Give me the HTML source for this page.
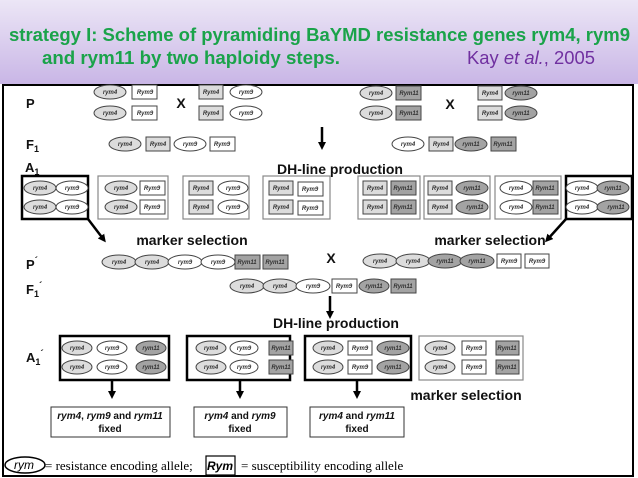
<!DOCTYPE html>
<html><head><meta charset="utf-8"><style>
body{margin:0;width:638px;height:478px;overflow:hidden;background:#fff}
svg{display:block}
.a text{font-family:"Liberation Sans",sans-serif;font-size:6px;font-style:italic;font-weight:bold;text-anchor:middle;fill:#333}
.L{fill:#dcdcdc;stroke:#444;stroke-width:1}
.W{fill:#fff;stroke:#444;stroke-width:1}
.D{fill:#a3a3a3;stroke:#444;stroke-width:1}
.lab{font-family:"Liberation Sans",sans-serif;font-weight:bold;font-size:13px;fill:#111}
.big{font-family:"Liberation Sans",sans-serif;font-weight:bold;font-size:14px;fill:#111;text-anchor:middle}
.gb{fill:none;stroke:#888;stroke-width:1.2}
.kb{fill:none;stroke:#000;stroke-width:2.5}
.fx{font-family:"Liberation Sans",sans-serif;font-weight:bold;font-size:10px;fill:#111;text-anchor:middle}
</style></head><body>
<svg width="638" height="478" viewBox="0 0 638 478">
<defs>
<linearGradient id="hg" x1="0" y1="0" x2="0" y2="1"><stop offset="0" stop-color="#ece6f6"/><stop offset="1" stop-color="#c9b6e6"/></linearGradient>
<marker id="ah" markerWidth="8" markerHeight="8" refX="5" refY="4" orient="auto" markerUnits="userSpaceOnUse"><path d="M0,0 L8,4 L0,8 z" fill="#000"/></marker>
</defs>
<rect x="0" y="0" width="638" height="84" fill="url(#hg)"/>
<text x="9" y="41" font-family="Liberation Sans,sans-serif" font-weight="bold" font-size="18" fill="#1aa34a" textLength="621" lengthAdjust="spacingAndGlyphs">strategy I: Scheme of pyramiding BaYMD resistance genes rym4, rym9</text>
<text x="42" y="64" font-family="Liberation Sans,sans-serif" font-weight="bold" font-size="18" fill="#1aa34a" textLength="298" lengthAdjust="spacingAndGlyphs">and rym11 by two haploidy steps.</text>
<text x="467" y="64" font-family="Liberation Sans,sans-serif" font-size="18" fill="#7030a0" textLength="128" lengthAdjust="spacingAndGlyphs">Kay <tspan font-style="italic">et al.</tspan>, 2005</text>
<rect x="3" y="85" width="630" height="391" fill="#fff" stroke="#000" stroke-width="2"/>

<text class="lab" x="26" y="108">P</text>
<text class="lab" x="26" y="149">F<tspan font-size="9" dy="3">1</tspan></text>
<text class="lab" x="25" y="172">A<tspan font-size="9" dy="3">1</tspan></text>
<text class="lab" x="26" y="269">P<tspan font-size="10" dy="-5">´</tspan></text>
<text class="lab" x="26" y="294">F<tspan font-size="9" dy="3">1</tspan><tspan font-size="10" dy="-8">´</tspan></text>
<text class="lab" x="26" y="362">A<tspan font-size="9" dy="3">1</tspan><tspan font-size="10" dy="-8">´</tspan></text>

<text x="181" y="108" class="big" font-size="16">X</text>
<text x="450" y="109" class="big" font-size="16">X</text>
<text x="331" y="263" class="big" font-size="16">X</text>

<g class="a">
<ellipse class="L" cx="110" cy="92" rx="16" ry="7"/><text x="110" y="94">rym4</text>
<ellipse class="L" cx="110" cy="113" rx="16" ry="7"/><text x="110" y="115">rym4</text>
<rect class="W" x="132" y="85" width="25" height="14"/><text x="145" y="94">Rym9</text>
<rect class="W" x="132" y="106" width="25" height="14"/><text x="145" y="115">Rym9</text>
<rect class="L" x="199" y="85" width="24" height="14"/><text x="211" y="94">Rym4</text>
<rect class="L" x="199" y="106" width="24" height="14"/><text x="211" y="115">Rym4</text>
<ellipse class="W" cx="246" cy="92" rx="16" ry="7"/><text x="246" y="94">rym9</text>
<ellipse class="W" cx="246" cy="113" rx="16" ry="7"/><text x="246" y="115">rym9</text>
<ellipse class="L" cx="376" cy="93" rx="16" ry="7"/><text x="376" y="95">rym4</text>
<ellipse class="L" cx="376" cy="113" rx="16" ry="7"/><text x="376" y="115">rym4</text>
<rect class="D" x="396" y="86" width="25" height="14"/><text x="409" y="95">Rym11</text>
<rect class="D" x="396" y="106" width="25" height="14"/><text x="409" y="115">Rym11</text>
<rect class="L" x="478" y="86" width="24" height="14"/><text x="490" y="95">Rym4</text>
<rect class="L" x="478" y="106" width="24" height="14"/><text x="490" y="115">Rym4</text>
<ellipse class="D" cx="521" cy="93" rx="16" ry="7"/><text x="521" y="95">rym11</text>
<ellipse class="D" cx="521" cy="113" rx="16" ry="7"/><text x="521" y="115">rym11</text>
<ellipse class="L" cx="125" cy="144" rx="16" ry="7"/><text x="125" y="146">rym4</text>
<rect class="L" x="146" y="137" width="24" height="14"/><text x="158" y="146">Rym4</text>
<ellipse class="W" cx="190" cy="144" rx="16" ry="7"/><text x="190" y="146">rym9</text>
<rect class="W" x="210" y="137" width="25" height="14"/><text x="222" y="146">Rym9</text>
<ellipse class="W" cx="408" cy="144" rx="16" ry="7"/><text x="408" y="146">rym4</text>
<rect class="L" x="429" y="137" width="24" height="14"/><text x="441" y="146">Rym4</text>
<ellipse class="D" cx="471" cy="144" rx="16" ry="7"/><text x="471" y="146">rym11</text>
<rect class="D" x="491" y="137" width="25" height="14"/><text x="503" y="146">Rym11</text>

<rect class="kb" x="22" y="176" width="66" height="43"/>
<ellipse class="L" cx="40" cy="188" rx="16" ry="7"/><text x="40" y="190">rym4</text>
<ellipse class="L" cx="40" cy="207" rx="16" ry="7"/><text x="40" y="209">rym4</text>
<ellipse class="W" cx="72" cy="188" rx="16" ry="7"/><text x="72" y="190">rym9</text>
<ellipse class="W" cx="72" cy="207" rx="16" ry="7"/><text x="72" y="209">rym9</text>

<rect class="gb" x="98" y="176" width="70" height="43"/>
<ellipse class="L" cx="121" cy="188" rx="16" ry="7"/><text x="121" y="190">rym4</text>
<ellipse class="L" cx="121" cy="207" rx="16" ry="7"/><text x="121" y="209">rym4</text>
<rect class="W" x="140" y="181" width="25" height="14"/><text x="152" y="190">Rym9</text>
<rect class="W" x="140" y="200" width="25" height="14"/><text x="152" y="209">Rym9</text>

<rect class="gb" x="183" y="176" width="66" height="43"/>
<rect class="L" x="189" y="181" width="24" height="14"/><text x="201" y="190">Rym4</text>
<rect class="L" x="189" y="200" width="24" height="14"/><text x="201" y="209">Rym4</text>
<ellipse class="W" cx="233" cy="188" rx="15" ry="7"/><text x="233" y="190">rym9</text>
<ellipse class="W" cx="233" cy="207" rx="15" ry="7"/><text x="233" y="209">rym9</text>

<rect class="gb" x="263" y="176" width="67" height="43"/>
<rect class="L" x="269" y="181" width="24" height="14"/><text x="281" y="190">Rym4</text>
<rect class="L" x="269" y="200" width="24" height="14"/><text x="281" y="209">Rym4</text>
<rect class="W" x="298" y="182" width="25" height="14"/><text x="310" y="191">Rym9</text>
<rect class="W" x="298" y="201" width="25" height="14"/><text x="310" y="210">Rym9</text>

<rect class="gb" x="358" y="176" width="62" height="43"/>
<rect class="L" x="363" y="181" width="24" height="14"/><text x="375" y="190">Rym4</text>
<rect class="L" x="363" y="200" width="24" height="14"/><text x="375" y="209">Rym4</text>
<rect class="D" x="391" y="181" width="25" height="14"/><text x="403" y="190">Rym11</text>
<rect class="D" x="391" y="200" width="25" height="14"/><text x="403" y="209">Rym11</text>

<rect class="gb" x="424" y="176" width="66" height="43"/>
<rect class="L" x="428" y="181" width="24" height="14"/><text x="440" y="190">Rym4</text>
<rect class="L" x="428" y="200" width="24" height="14"/><text x="440" y="209">Rym4</text>
<ellipse class="D" cx="472" cy="188" rx="16" ry="7"/><text x="472" y="190">rym11</text>
<ellipse class="D" cx="472" cy="207" rx="16" ry="7"/><text x="475" y="209">rym11</text>

<rect class="gb" x="495" y="176" width="66" height="43"/>
<ellipse class="W" cx="516" cy="188" rx="16" ry="7"/><text x="516" y="190">rym4</text>
<ellipse class="W" cx="516" cy="207" rx="16" ry="7"/><text x="516" y="209">rym4</text>
<rect class="D" x="533" y="181" width="25" height="14"/><text x="545" y="190">Rym11</text>
<rect class="D" x="533" y="200" width="25" height="14"/><text x="545" y="209">Rym11</text>

<rect class="kb" x="566" y="176" width="66" height="43"/>
<ellipse class="W" cx="582" cy="188" rx="16" ry="7"/><text x="582" y="190">rym4</text>
<ellipse class="W" cx="582" cy="207" rx="16" ry="7"/><text x="582" y="209">rym4</text>
<ellipse class="D" cx="613" cy="188" rx="16" ry="7"/><text x="613" y="190">rym11</text>
<ellipse class="D" cx="613" cy="207" rx="16" ry="7"/><text x="616" y="209">rym11</text>

<ellipse class="L" cx="119" cy="262" rx="17" ry="7"/><text x="119" y="264">rym4</text>
<ellipse class="L" cx="152" cy="262" rx="17" ry="7"/><text x="152" y="264">rym4</text>
<ellipse class="W" cx="185" cy="262" rx="17" ry="7"/><text x="185" y="264">rym9</text>
<ellipse class="W" cx="218" cy="262" rx="17" ry="7"/><text x="218" y="264">rym9</text>
<rect class="D" x="235" y="255" width="25" height="14"/><text x="247" y="264">Rym11</text>
<rect class="D" x="263" y="255" width="25" height="14"/><text x="275" y="264">Rym11</text>
<ellipse class="L" cx="380" cy="261" rx="17" ry="7"/><text x="380" y="263">rym4</text>
<ellipse class="L" cx="413" cy="261" rx="17" ry="7"/><text x="413" y="263">rym4</text>
<ellipse class="D" cx="445" cy="261" rx="17" ry="7"/><text x="445" y="263">rym11</text>
<ellipse class="D" cx="477" cy="261" rx="17" ry="7"/><text x="477" y="263">rym11</text>
<rect class="W" x="497" y="254" width="24" height="14"/><text x="509" y="263">Rym9</text>
<rect class="W" x="525" y="254" width="24" height="14"/><text x="537" y="263">Rym9</text>

<ellipse class="L" cx="247" cy="286" rx="17" ry="7"/><text x="247" y="288">rym4</text>
<ellipse class="L" cx="280" cy="286" rx="17" ry="7"/><text x="280" y="288">rym4</text>
<ellipse class="W" cx="313" cy="286" rx="17" ry="7"/><text x="313" y="288">rym9</text>
<rect class="W" x="332" y="279" width="25" height="14"/><text x="344" y="288">Rym9</text>
<ellipse class="D" cx="374" cy="286" rx="15" ry="7"/><text x="374" y="288">rym11</text>
<rect class="D" x="391" y="279" width="25" height="14"/><text x="403" y="288">Rym11</text>

<rect class="kb" x="60" y="336" width="109" height="44"/>
<ellipse class="L" cx="77" cy="348" rx="15" ry="7"/><text x="77" y="350">rym4</text>
<ellipse class="L" cx="77" cy="367" rx="15" ry="7"/><text x="77" y="369">rym4</text>
<ellipse class="W" cx="112" cy="348" rx="15" ry="7"/><text x="112" y="350">rym9</text>
<ellipse class="W" cx="112" cy="367" rx="15" ry="7"/><text x="112" y="369">rym9</text>
<ellipse class="D" cx="151" cy="348" rx="15" ry="7"/><text x="151" y="350">rym11</text>
<ellipse class="D" cx="151" cy="367" rx="15" ry="7"/><text x="151" y="369">rym11</text>

<rect class="kb" x="187" y="336" width="103" height="44"/>
<ellipse class="L" cx="211" cy="348" rx="15" ry="7"/><text x="211" y="350">rym4</text>
<ellipse class="L" cx="211" cy="367" rx="15" ry="7"/><text x="211" y="369">rym4</text>
<ellipse class="W" cx="244" cy="348" rx="14" ry="7"/><text x="244" y="350">rym9</text>
<ellipse class="W" cx="244" cy="367" rx="14" ry="7"/><text x="244" y="369">rym9</text>
<rect class="D" x="269" y="341" width="24" height="14"/><text x="281" y="350">Rym11</text>
<rect class="D" x="269" y="360" width="24" height="14"/><text x="281" y="369">Rym11</text>

<rect class="kb" x="305" y="336" width="106" height="44"/>
<ellipse class="L" cx="328" cy="348" rx="15" ry="7"/><text x="328" y="350">rym4</text>
<ellipse class="L" cx="328" cy="367" rx="15" ry="7"/><text x="328" y="369">rym4</text>
<rect class="W" x="348" y="341" width="24" height="14"/><text x="360" y="350">Rym9</text>
<rect class="W" x="348" y="360" width="24" height="14"/><text x="360" y="369">Rym9</text>
<ellipse class="D" cx="393" cy="348" rx="16" ry="7"/><text x="393" y="350">rym11</text>
<ellipse class="D" cx="393" cy="367" rx="16" ry="7"/><text x="393" y="369">rym11</text>

<rect class="gb" x="419" y="336" width="104" height="44"/>
<ellipse class="L" cx="440" cy="348" rx="15" ry="7"/><text x="440" y="350">rym4</text>
<ellipse class="L" cx="440" cy="367" rx="15" ry="7"/><text x="440" y="369">rym4</text>
<rect class="W" x="462" y="341" width="24" height="14"/><text x="474" y="350">Rym9</text>
<rect class="W" x="462" y="360" width="24" height="14"/><text x="474" y="369">Rym9</text>
<rect class="D" x="496" y="341" width="23" height="14"/><text x="507" y="350">Rym11</text>
<rect class="D" x="496" y="360" width="23" height="14"/><text x="507" y="369">Rym11</text>
</g>

<g stroke="#000" stroke-width="2.5" marker-end="url(#ah)">
<line x1="322" y1="127" x2="322" y2="147"/>
<line x1="88" y1="219" x2="104" y2="240"/>
<line x1="566" y1="219" x2="547" y2="240"/>
<line x1="330" y1="296" x2="330" y2="316"/>
<line x1="112" y1="381" x2="112" y2="396"/>
<line x1="240" y1="381" x2="240" y2="396"/>
<line x1="357" y1="381" x2="357" y2="396"/>
</g>

<text class="big" x="340" y="174">DH-line production</text>
<text class="big" x="192" y="245">marker selection</text>
<text class="big" x="490" y="245">marker selection</text>
<text class="big" x="336" y="328">DH-line production</text>
<text class="big" x="466" y="400">marker selection</text>

<rect x="51" y="407" width="119" height="30" fill="#fff" stroke="#333"/>
<text class="fx" x="110" y="419"><tspan font-style="italic">rym4</tspan>, <tspan font-style="italic">rym9</tspan> and <tspan font-style="italic">rym11</tspan></text>
<text class="fx" x="110" y="432">fixed</text>
<rect x="194" y="407" width="93" height="30" fill="#fff" stroke="#333"/>
<text class="fx" x="240" y="419"><tspan font-style="italic">rym4</tspan> and <tspan font-style="italic">rym9</tspan></text>
<text class="fx" x="240" y="432">fixed</text>
<rect x="310" y="407" width="94" height="30" fill="#fff" stroke="#333"/>
<text class="fx" x="357" y="419"><tspan font-style="italic">rym4</tspan> and <tspan font-style="italic">rym11</tspan></text>
<text class="fx" x="357" y="432">fixed</text>

<ellipse cx="25" cy="465" rx="20" ry="8" fill="#fff" stroke="#000" stroke-width="1.5"/>
<text x="24" y="469" font-family="Liberation Sans,sans-serif" font-style="italic" font-size="12" text-anchor="middle">rym</text>
<text x="45" y="470" font-family="Liberation Serif,serif" font-size="13">= resistance encoding allele;</text>
<rect x="206" y="456" width="29" height="19" fill="#fff" stroke="#000" stroke-width="1.2"/>
<text x="220" y="470" font-family="Liberation Sans,sans-serif" font-style="italic" font-weight="bold" font-size="12" text-anchor="middle">Rym</text>
<text x="241" y="470" font-family="Liberation Serif,serif" font-size="13">= susceptibility encoding allele</text>
</svg>
</body></html>
